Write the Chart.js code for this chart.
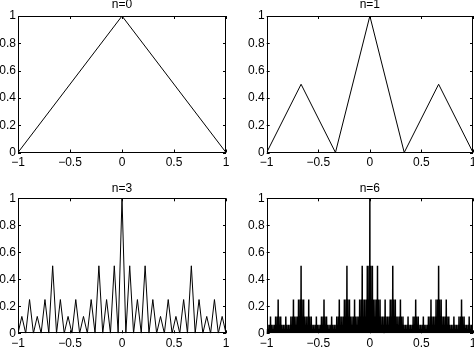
<!DOCTYPE html>
<html><head><meta charset="utf-8">
<script src="https://cdn.jsdelivr.net/npm/chart.js@4/dist/chart.umd.min.js"></script>
<style>
html,body{margin:0;padding:0;background:#fff;}
#wrap{position:relative;width:474px;height:348px;overflow:hidden;background:#fff;}
.cell{position:absolute;overflow:hidden;}
canvas{display:block;}
</style></head><body>
<div id="wrap">
<div class="cell" style="left:0;top:0;width:237px;height:175px"><canvas id="c0" width="237" height="175"></canvas></div>
<div class="cell" style="left:237px;top:0;width:237px;height:175px"><canvas id="c1" width="260" height="175"></canvas></div>
<div class="cell" style="left:0;top:175px;width:237px;height:173px"><canvas id="c3" width="237" height="173"></canvas></div>
<div class="cell" style="left:237px;top:175px;width:237px;height:173px"><canvas id="c6" width="260" height="173"></canvas></div>
</div>
<script>
// ---- data ----
const titles = ['n=0', 'n=1', 'n=3', 'n=6'];
const xTicks = [-1, -0.5, 0, 0.5, 1];
const yTicks = [0, 0.2, 0.4, 0.6, 0.8, 1];
// peak heights of the equal-width triangles spanning [-1, 1]
const n0Peaks = [1];
const n1Peaks = [0.5, 1, 0.5];
const n3Peaks = [0.125, 0.25, 0.125, 0.25, 0.5, 0.25, 0.125, 0.25, 0.125,
                 0.25, 0.5, 0.25, 0.5, 1, 0.5, 0.25, 0.5, 0.25,
                 0.125, 0.25, 0.125, 0.25, 0.5, 0.25, 0.125, 0.25, 0.125];
// n=6: 729 triangles; each digit d gives a peak height of 1/2^d
const n6PeakLevels = [
 '656545656545434545656545656',
 '545434545434323434545434545',
 '656545656545434545656545656',
 '545434545434323434545434545',
 '434323434323212323434323434',
 '545434545434323434545434545',
 '656545656545434545656545656',
 '545434545434323434545434545',
 '656545656545434545656545656',
 '545434545434323434545434545',
 '434323434323212323434323434',
 '545434545434323434545434545',
 '434323434323212323434323434',
 '323212323212101212323212323',
 '434323434323212323434323434',
 '545434545434323434545434545',
 '434323434323212323434323434',
 '545434545434323434545434545',
 '656545656545434545656545656',
 '545434545434323434545434545',
 '656545656545434545656545656',
 '545434545434323434545434545',
 '434323434323212323434323434',
 '545434545434323434545434545',
 '656545656545434545656545656',
 '545434545434323434545434545',
 '656545656545434545656545656'
];
const n6Peaks = n6PeakLevels.join('').split('').map(d => Math.pow(0.5, Number(d)));

// ---- helpers ----
function triangles(peaks) {
  const N = peaks.length;
  const pts = [{x: -1, y: 0}];
  for (let i = 0; i < N; i++) {
    pts.push({x: -1 + (2 * i + 1) / N, y: peaks[i]});
    pts.push({x: -1 + (2 * i + 2) / N, y: 0});
  }
  return pts;
}
const FONT = '"Liberation Sans", Arial, Helvetica, sans-serif';
function fmt(v) {
  let s = String(Number(Number(v).toFixed(2)));
  return s.replace('-', '\u2212');
}

const framePlugin = {
  id: 'frame',
  afterDatasetsDraw(chart, args, opts) {
    const a = chart.chartArea, ctx = chart.ctx;
    const xs = chart.scales.x, ys = chart.scales.y;
    ctx.save();
    ctx.strokeStyle = '#000';
    ctx.lineWidth = 1;
    ctx.strokeRect(Math.round(a.left) + 0.5, Math.round(a.top) + 0.5,
                   Math.round(a.right) - Math.round(a.left) - 1, Math.round(a.bottom) - Math.round(a.top) - 1);
    const L = 3;
    ctx.beginPath();
    xTicks.forEach(v => {
      const px = Math.round(xs.getPixelForValue(v)) + 0.5;
      ctx.moveTo(px, a.bottom); ctx.lineTo(px, a.bottom - L);
      ctx.moveTo(px, a.top); ctx.lineTo(px, a.top + L);
    });
    yTicks.forEach(v => {
      const py = Math.round(ys.getPixelForValue(v)) + 0.5;
      ctx.moveTo(a.left, py); ctx.lineTo(a.left + L, py);
      ctx.moveTo(a.right, py); ctx.lineTo(a.right - L, py);
    });
    ctx.stroke();
    ctx.restore();
  },
  afterDraw(chart, args, opts) {
    const a = chart.chartArea, ctx = chart.ctx;
    ctx.save();
    ctx.fillStyle = '#000';
    ctx.font = '12px ' + FONT;
    ctx.textAlign = 'center';
    ctx.textBaseline = 'middle';
    ctx.fillText(opts.title, (a.left + a.right) / 2, opts.titleY);
    ctx.restore();
  }
};

function makeChart(id, title, peaks, g) {
  new Chart(document.getElementById(id), {
    type: 'line',
    data: {datasets: [{
      data: triangles(peaks),
      borderColor: '#000', borderWidth: g.dense ? 1.5 : 1, pointRadius: 0,
      // a vanishing tension keeps every segment straight but draws each point
      tension: g.dense ? 1e-6 : 0, fill: false
    }]},
    options: {
      responsive: false, animation: false, events: [],
      layout: {padding: {top: g.top, left: 0, right: g.right, bottom: 0}},
      plugins: {legend: {display: false}, tooltip: {enabled: false},
                frame: {title: title, titleY: g.titleY}},
      scales: {
        x: {type: 'linear', min: -1, max: 1,
            grid: {display: false, drawTicks: false}, border: {display: false},
            afterBuildTicks: s => { s.ticks = xTicks.map(v => ({value: v})); },
            afterFit: s => { s.height = g.xH; },
            ticks: {padding: 3, maxRotation: 0, autoSkip: false, color: '#000',
                    font: {family: FONT, size: 12}, callback: v => fmt(v)}},
        y: {type: 'linear', min: 0, max: 1,
            grid: {display: false, drawTicks: false}, border: {display: false},
            afterBuildTicks: s => { s.ticks = yTicks.map(v => ({value: v})); },
            afterFit: s => { s.width = g.yW; },
            ticks: {padding: 2, autoSkip: false, color: '#000',
                    font: {family: FONT, size: 12}, callback: v => fmt(v)}}
      }
    },
    plugins: [framePlugin]
  });
}

makeChart('c0', titles[0], n0Peaks, {top: 16, right: 11, xH: 22.5, yW: 18, titleY: 5});
makeChart('c1', titles[1], n1Peaks, {top: 16, right: 24, xH: 22.5, yW: 29.7, titleY: 5});
makeChart('c3', titles[2], n3Peaks, {top: 23.3, right: 11, xH: 14.7, yW: 18, titleY: 14});
makeChart('c6', titles[3], n6Peaks, {top: 23.3, right: 24, xH: 14.7, yW: 29.7, titleY: 14, dense: true});
</script>
</body></html>
